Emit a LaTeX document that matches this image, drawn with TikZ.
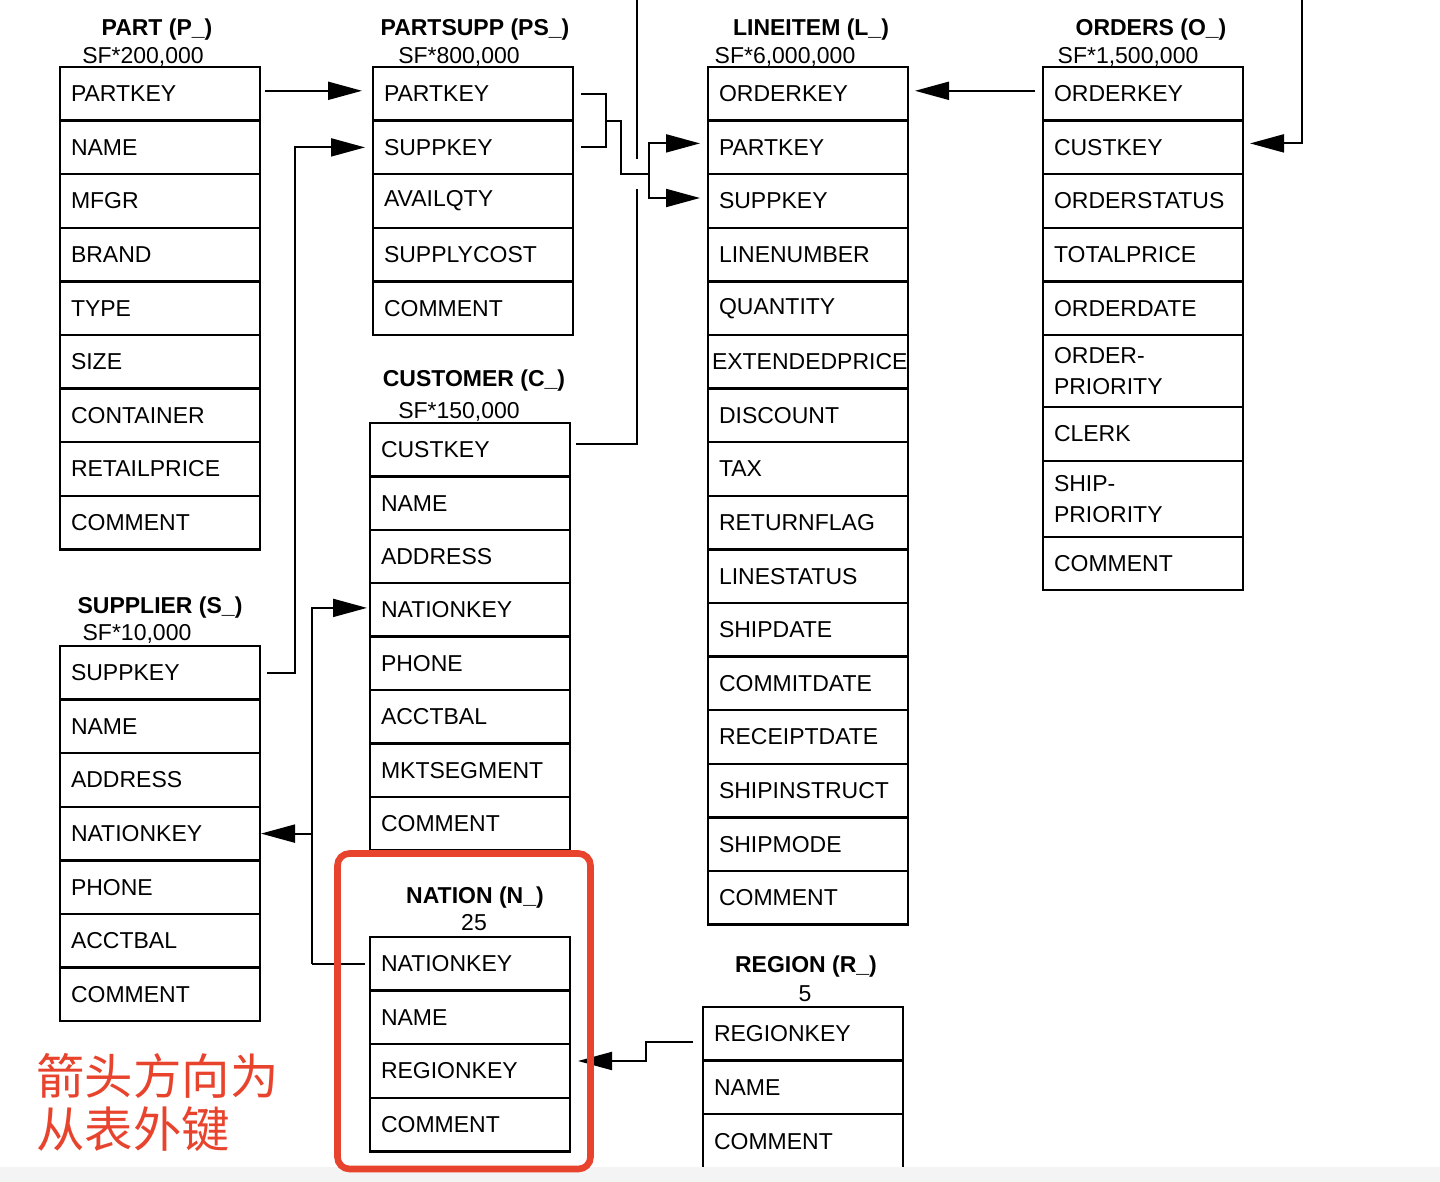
\documentclass[tikz,border=0pt]{standalone}
\usepackage{fontspec}
\setmainfont{Liberation Sans}
\newfontfamily\cjk{Noto Sans CJK SC}
\usetikzlibrary{arrows.meta,positioning,calc}
\definecolor{markred}{HTML}{E8432D}
\definecolor{stripgray}{HTML}{F4F4F4}

\begin{document}
\begin{tikzpicture}[x=0.5pt,y=-0.5pt]
                        \tikzset{Field/.style={%
                                shape=rectangle,%
                                draw=black,%
                                line width=1.2pt,%
                                minimum height=26.8pt,%
                                inner xsep=5.5pt,%
                                inner ysep=0pt,%
                                text width=89pt,%
                                align=left,%
                                outer sep=0pt,%
                                font=\fontsize{11.5pt}{15.5pt}\selectfont,%
                            },
                            Title/.style={inner sep=0pt, yshift=-1.5pt, font=\bfseries\fontsize{11.5pt}{13pt}\selectfont},
                            Count/.style={inner sep=0pt, yshift=-1pt, font=\fontsize{11.5pt}{13pt}\selectfont},
                            Line/.style={draw=black, line width=1pt},
                            Link/.style={Line, -{Triangle[length=17pt,width=9pt]}, shorten >=4pt},
                            Note/.style={inner sep=0pt, text=markred, align=left, font=\cjk\fontsize{24.2pt}{26.5pt}\selectfont}}
                        \useasboundingbox (0,0) rectangle (1440,1182);

                            % PART
                            \node[Title] (PT) at (157,27) {PART (P\_)};
                            \node[Count] (PC) at (143,55) {SF*200,000};
                            \node[Field, anchor=north west] (P1) at (60,67) {PARTKEY};
                            \node[Field, below=0pt of P1] (P2) {NAME};
                            \node[Field, below=0pt of P2] (P3) {MFGR};
                            \node[Field, below=0pt of P3] (P4) {BRAND};
                            \node[Field, below=0pt of P4] (P5) {TYPE};
                            \node[Field, below=0pt of P5] (P6) {SIZE};
                            \node[Field, below=0pt of P6] (P7) {CONTAINER};
                            \node[Field, below=0pt of P7] (P8) {RETAILPRICE};
                            \node[Field, below=0pt of P8] (P9) {COMMENT};

                            % PARTSUPP
                            \node[Title] (PST) at (475,27) {PARTSUPP (PS\_)};
                            \node[Count] (PSC) at (459,55) {SF*800,000};
                            \node[Field, anchor=north west] (PS1) at (373,67) {PARTKEY};
                            \node[Field, below=0pt of PS1] (PS2) {SUPPKEY};
                            \node[Field, below=0pt of PS2] (PS3) {AVAILQTY};
                            \node[Field, below=0pt of PS3] (PS4) {SUPPLYCOST};
                            \node[Field, below=0pt of PS4] (PS5) {COMMENT};

                            % LINEITEM
                            \node[Title] (LT) at (811,27) {LINEITEM (L\_)};
                            \node[Count] (LC) at (785,55) {SF*6,000,000};
                            \node[Field, anchor=north west] (L1) at (708,67) {ORDERKEY};
                            \node[Field, below=0pt of L1] (L2) {PARTKEY};
                            \node[Field, below=0pt of L2] (L3) {SUPPKEY};
                            \node[Field, below=0pt of L3] (L4) {LINENUMBER};
                            \node[Field, below=0pt of L4] (L5) {QUANTITY};
                            \node[Field, below=0pt of L5, inner xsep=2pt, text width=96pt] (L6) {EXTENDEDPRICE};
                            \node[Field, below=0pt of L6] (L7) {DISCOUNT};
                            \node[Field, below=0pt of L7] (L8) {TAX};
                            \node[Field, below=0pt of L8] (L9) {RETURNFLAG};
                            \node[Field, below=0pt of L9] (L10) {LINESTATUS};
                            \node[Field, below=0pt of L10] (L11) {SHIPDATE};
                            \node[Field, below=0pt of L11] (L12) {COMMITDATE};
                            \node[Field, below=0pt of L12] (L13) {RECEIPTDATE};
                            \node[Field, below=0pt of L13] (L14) {SHIPINSTRUCT};
                            \node[Field, below=0pt of L14] (L15) {SHIPMODE};
                            \node[Field, below=0pt of L15] (L16) {COMMENT};

                            % ORDERS
                            \node[Title] (OT) at (1151,27) {ORDERS (O\_)};
                            \node[Count] (OC) at (1128,55) {SF*1,500,000};
                            \node[Field, anchor=north west] (O1) at (1043,67) {ORDERKEY};
                            \node[Field, below=0pt of O1] (O2) {CUSTKEY};
                            \node[Field, below=0pt of O2] (O3) {ORDERSTATUS};
                            \node[Field, below=0pt of O3] (O4) {TOTALPRICE};
                            \node[Field, below=0pt of O4] (O5) {ORDERDATE};
                            \node[Field, below=0pt of O5, minimum height=36pt] (O6) {ORDER-\\PRIORITY};
                            \node[Field, below=0pt of O6, minimum height=27pt] (O7) {CLERK};
                            \node[Field, below=0pt of O7, minimum height=38pt] (O8) {SHIP-\\PRIORITY};
                            \node[Field, below=0pt of O8, minimum height=26.5pt] (O9) {COMMENT};

                            % CUSTOMER
                            \node[Title] (CT) at (474,378) {CUSTOMER (C\_)};
                            \node[Count] (CC) at (459,410) {SF*150,000};
                            \node[Field, anchor=north west, minimum height=26.7pt] (C1) at (370,423) {CUSTKEY};
                            \node[Field, below=0pt of C1, minimum height=26.7pt] (C2) {NAME};
                            \node[Field, below=0pt of C2, minimum height=26.7pt] (C3) {ADDRESS};
                            \node[Field, below=0pt of C3, minimum height=26.7pt] (C4) {NATIONKEY};
                            \node[Field, below=0pt of C4, minimum height=26.7pt] (C5) {PHONE};
                            \node[Field, below=0pt of C5, minimum height=26.7pt] (C6) {ACCTBAL};
                            \node[Field, below=0pt of C6, minimum height=26.7pt] (C7) {MKTSEGMENT};
                            \node[Field, below=0pt of C7, minimum height=26.7pt] (C8) {COMMENT};

                            % SUPPLIER
                            \node[Title] (ST) at (160,605) {SUPPLIER (S\_)};
                            \node[Count] (SC) at (137,632) {SF*10,000};
                            \node[Field, anchor=north west] (S1) at (60,646) {SUPPKEY};
                            \node[Field, below=0pt of S1] (S2) {NAME};
                            \node[Field, below=0pt of S2] (S3) {ADDRESS};
                            \node[Field, below=0pt of S3] (S4) {NATIONKEY};
                            \node[Field, below=0pt of S4] (S5) {PHONE};
                            \node[Field, below=0pt of S5] (S6) {ACCTBAL};
                            \node[Field, below=0pt of S6] (S7) {COMMENT};

                            % NATION
                            \node[Title] (NT) at (475,895) {NATION (N\_)};
                            \node[Count] (NC) at (474,921) {25};
                            \node[Field, anchor=north west] (N1) at (370,937) {NATIONKEY};
                            \node[Field, below=0pt of N1] (N2) {NAME};
                            \node[Field, below=0pt of N2] (N3) {REGIONKEY};
                            \node[Field, below=0pt of N3] (N4) {COMMENT};

                            % REGION
                            \node[Title] (RT) at (806,964) {REGION (R\_)};
                            \node[Count] (RC) at (805,992) {5};
                            \node[Field, anchor=north west] (R1) at (703,1007) {REGIONKEY};
                            \node[Field, below=0pt of R1] (R2) {NAME};
                            \node[Field, below=0pt of R2, minimum height=27pt] (R3) {COMMENT};

                            % foreign keys
                            \coordinate (top) at (0,-20);
                            \coordinate (cv) at ($(C1.east)+(67,-6)$);
                            \coordinate (ov) at ($(O2.east)+(59,-4)$);
                            \coordinate (br) at ($(PS1.east)!.5!(PS2.east)+(33,0)$);
                            \coordinate (fk) at ($(L2.west)!.5!(L3.west)+(-59,0)$);
                            \coordinate (nv) at ($(N1.west)+(-58,0)$);
                            \coordinate (rj) at ($(R1.west)+(-57,8)$);
                            \coordinate (nr) at ([yshift=5pt]N3.east);

                            \path ([yshift=1.5pt]P1.east) edge[Link, shorten <=2.5pt, shorten >=5.5pt] ([yshift=1.5pt]PS1.west);
                            \draw[Link, shorten <=3.5pt] (S1.east) -- ++(35,0) |- (PS2.west);
                            \draw[Link, shorten <=3pt, shorten >=3.5pt] ([yshift=3pt]C1.east) -- (cv) -- (cv |- top) -- (ov |- top) -- (ov) -- ([yshift=2pt]O2.east);
                            \fill[white] ($(cv |- fk)+(-4,-15)$) rectangle ($(cv |- fk)+(4,15)$);
                            \draw[Line, shorten <=4pt, shorten >=4pt] (PS1.east) -| (br) |- (PS2.east);
                            \draw[Line] (br) -- ++(15,0) |- (fk);
                            \draw[Link] (fk) |- ([yshift=2pt]L2.west);
                            \draw[Link] (fk) |- ([yshift=1.5pt]L3.west);
                            \path ([yshift=1.5pt]O1.west) edge[Link, shorten <=4pt, shorten >=3.5pt] ([yshift=1.5pt]L1.east);
                            \draw[Line, shorten <=2.5pt] (N1.west) -- (nv);
                            \draw[Link, shorten >=1.5pt] (nv) |- ([yshift=1pt]C4.west);
                            \draw[Link, shorten >=0.5pt] (nv |- S4.east) -- (S4.east);
                            \draw[Link, shorten <=5pt] ([yshift=-4pt]R1.west) -- (rj) -- (rj |- nr) -- (nr);

                            % screenshot edge and note
                            \fill[stripgray] (0,1166.8) rectangle (1440,1182);
                            \draw[markred, line width=3.3pt, rounded corners=6pt] (337.5,853.5) rectangle (590.5,1169);
                            \node[Note, anchor=west] (note) at (36,1103) {箭头方向为\\从表外键};
                    \end{tikzpicture}
\end{document}
